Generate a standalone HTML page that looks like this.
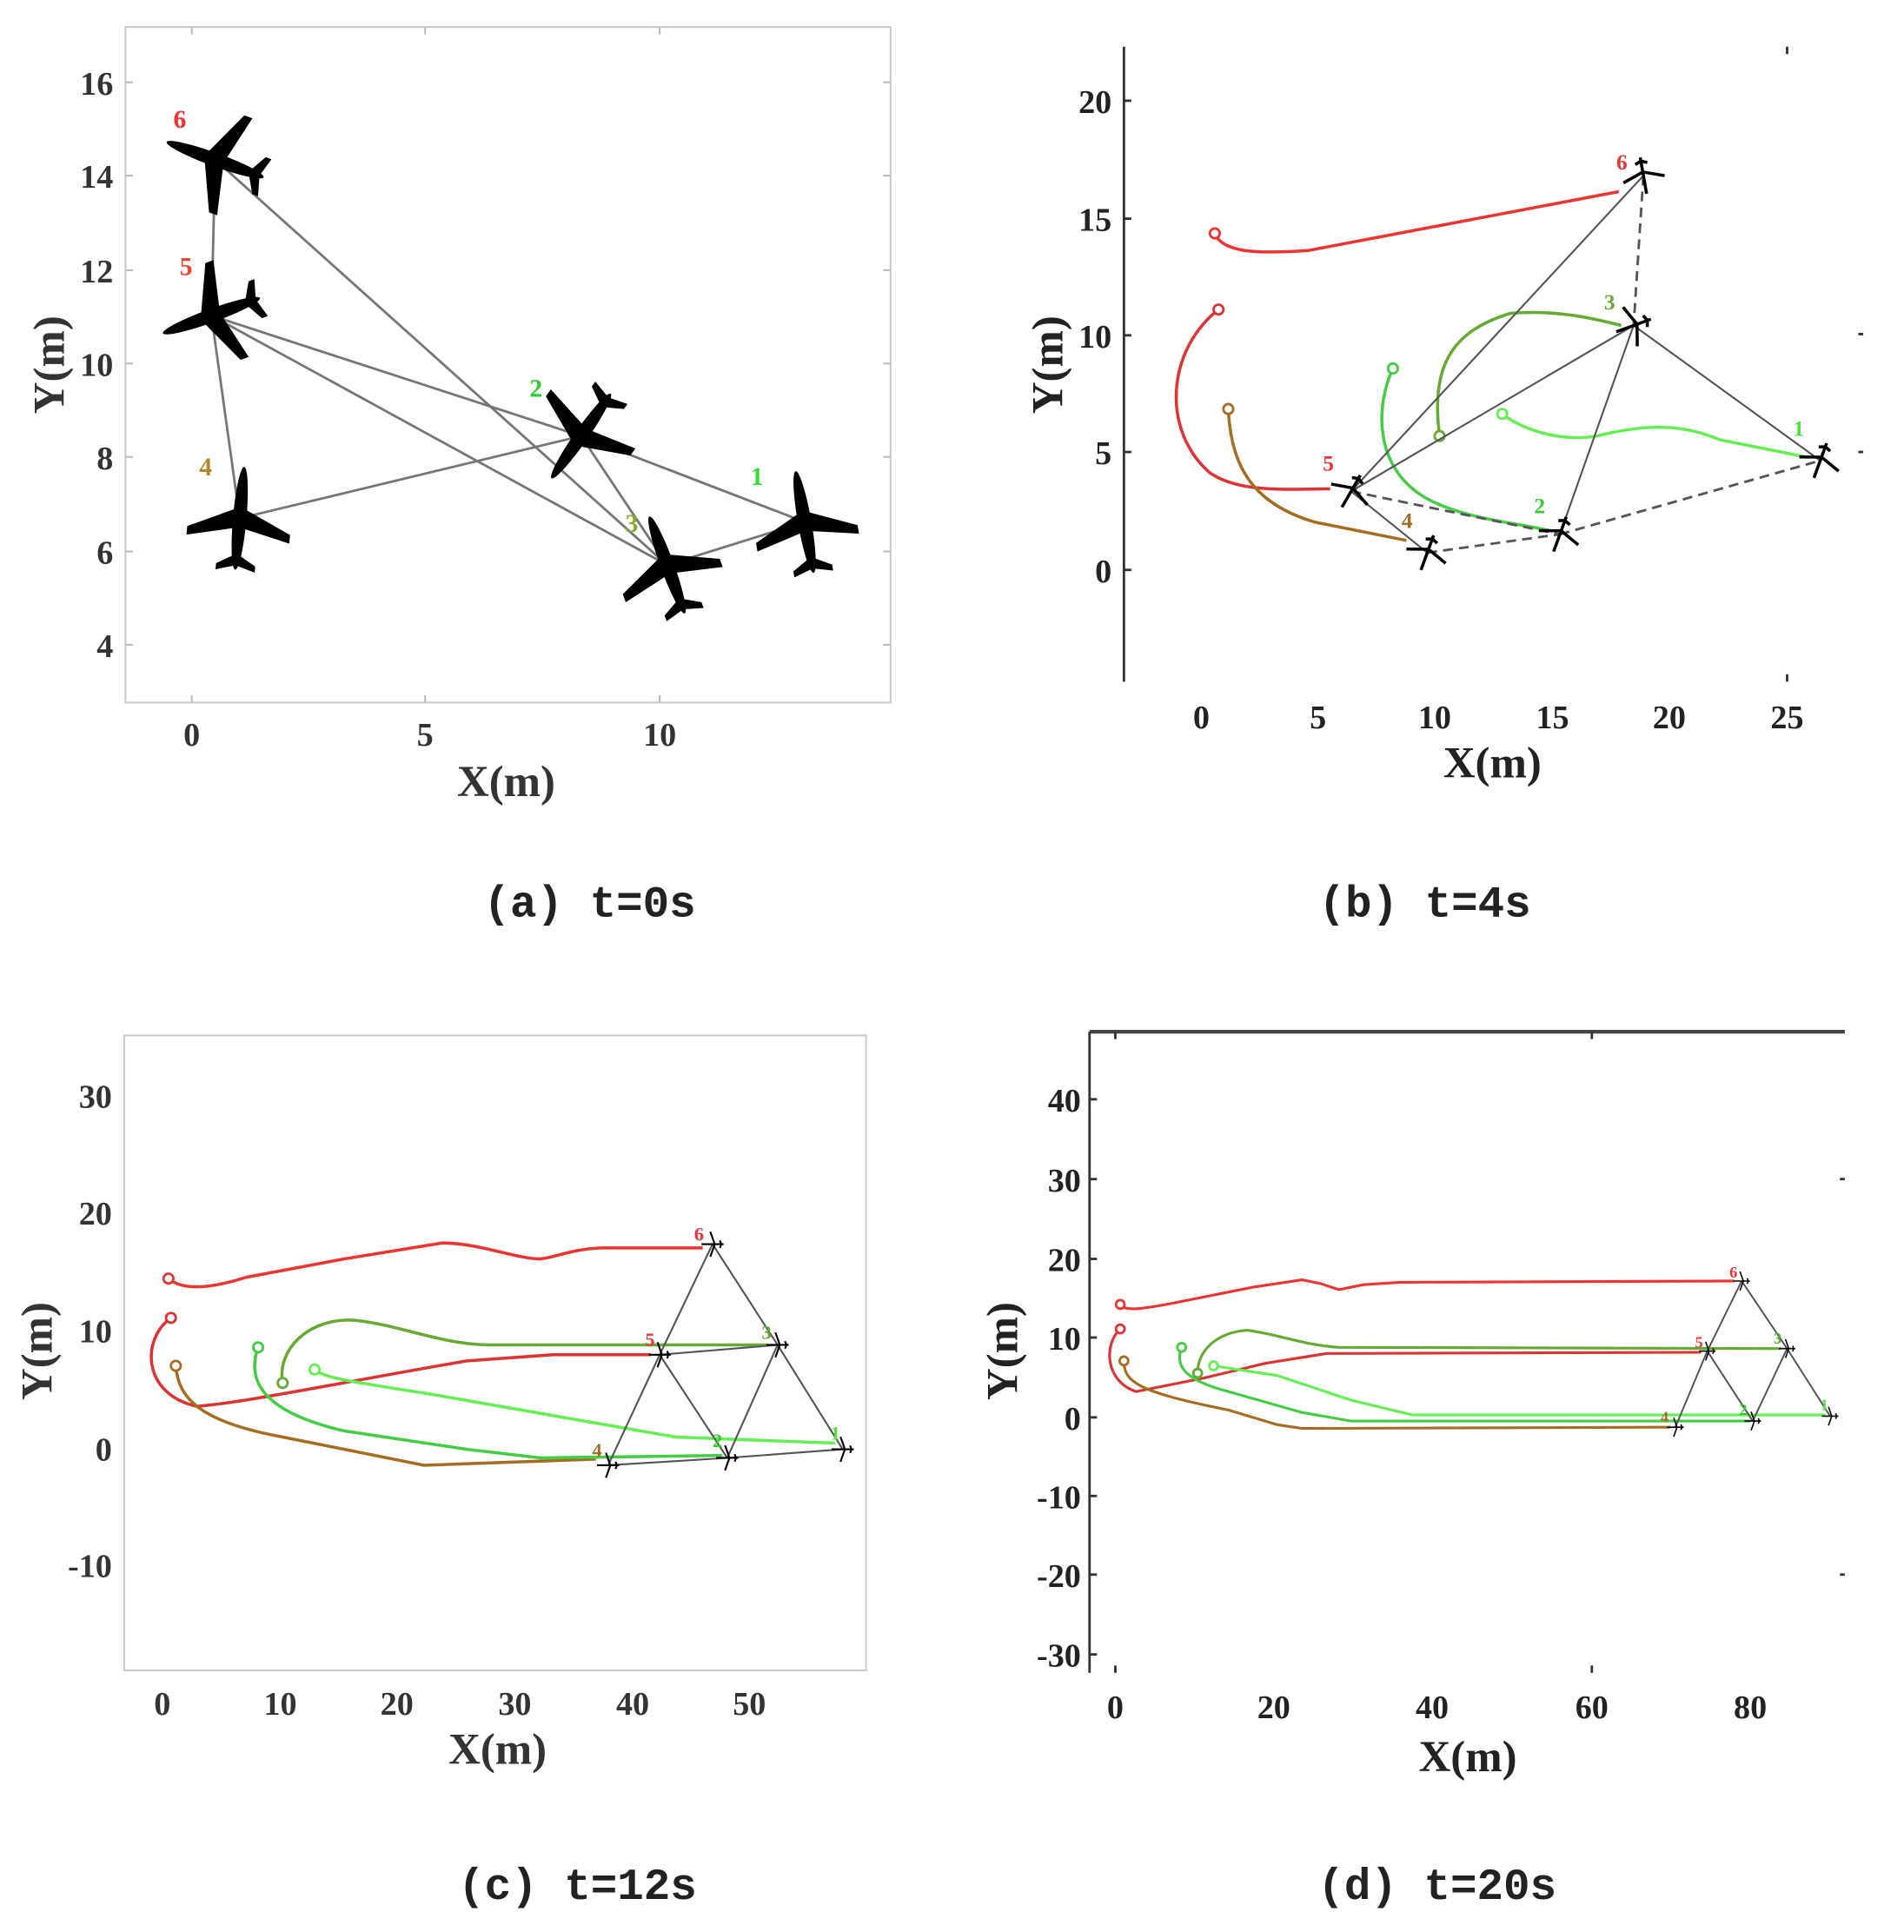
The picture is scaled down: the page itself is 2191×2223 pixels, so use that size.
<!DOCTYPE html>
<html><head><meta charset="utf-8"><style>
html,body{margin:0;padding:0;background:#fff}
svg{display:block}
text{font-family:"Liberation Serif",serif;font-weight:bold}
</style></head><body>
<svg width="2191" height="2223" viewBox="0 0 1550 1573" xmlns="http://www.w3.org/2000/svg">
<defs>
<g id="pl"><ellipse cx="0" cy="0" rx="42" ry="5.5" fill="#000"/>
<path d="M8,-3 L-10,-42 L-17,-42 L-8,-3 Z M8,3 L-10,42 L-17,42 L-8,3 Z M-30,-2 L-38,-16 L-43,-16 L-39,-2 Z M-30,2 L-38,16 L-43,16 L-39,2 Z" fill="#000"/></g>
<g id="sp"><path d="M-15,0 L15,0 M-3,-17 L3,0 L-3,17 M10,-5 L12,0 L10,5" stroke="#000" stroke-width="2.5" fill="none"/></g>
</defs>
<rect width="1550" height="1573" fill="#fff"/>

<!-- Panel (a) -->
<rect x="102" y="22" width="623" height="550" fill="none" stroke="#ccc" stroke-width="1.5"/>
<g stroke="#bbb" stroke-width="1.5">
<line x1="156" y1="572" x2="156" y2="566"/><line x1="346" y1="572" x2="346" y2="566"/><line x1="537" y1="572" x2="537" y2="566"/>
<line x1="156" y1="22" x2="156" y2="28"/><line x1="346" y1="22" x2="346" y2="28"/><line x1="537" y1="22" x2="537" y2="28"/>
<line x1="102" y1="67" x2="108" y2="67"/><line x1="102" y1="143" x2="108" y2="143"/><line x1="102" y1="220" x2="108" y2="220"/><line x1="102" y1="296" x2="108" y2="296"/><line x1="102" y1="372" x2="108" y2="372"/><line x1="102" y1="449" x2="108" y2="449"/><line x1="102" y1="525" x2="108" y2="525"/>
<line x1="725" y1="67" x2="719" y2="67"/><line x1="725" y1="143" x2="719" y2="143"/><line x1="725" y1="220" x2="719" y2="220"/><line x1="725" y1="296" x2="719" y2="296"/><line x1="725" y1="372" x2="719" y2="372"/><line x1="725" y1="449" x2="719" y2="449"/><line x1="725" y1="525" x2="719" y2="525"/>
</g>
<g font-size="27" fill="#333" text-anchor="end">
<text x="92" y="77">16</text><text x="92" y="153">14</text><text x="92" y="230">12</text><text x="92" y="306">10</text><text x="92" y="382">8</text><text x="92" y="459">6</text><text x="92" y="535">4</text>
</g>
<g font-size="27" fill="#333" text-anchor="middle">
<text x="156" y="607">0</text><text x="346" y="607">5</text><text x="537" y="607">10</text>
</g>
<text x="412" y="648" font-size="36" fill="#333" text-anchor="middle">X(m)</text>
<text transform="translate(52,297) rotate(-90)" font-size="36" fill="#333" text-anchor="middle">Y(m)</text>
<g stroke="#777" stroke-width="2" fill="none">
<line x1="175" y1="130" x2="172" y2="257"/><line x1="175" y1="130" x2="543" y2="460"/>
<line x1="172" y1="257" x2="473" y2="355"/><line x1="172" y1="257" x2="543" y2="460"/><line x1="172" y1="257" x2="195" y2="422"/>
<line x1="195" y1="422" x2="473" y2="355"/><line x1="473" y1="355" x2="655" y2="425"/><line x1="473" y1="355" x2="543" y2="460"/><line x1="543" y1="460" x2="655" y2="425"/>
</g>
<use href="#pl" transform="translate(175,130) rotate(200)"/>
<use href="#pl" transform="translate(172,257) rotate(160)"/>
<use href="#pl" transform="translate(195,422) rotate(-85)"/>
<use href="#pl" transform="translate(473,355) rotate(125)"/>
<use href="#pl" transform="translate(543,460) rotate(-110)"/>
<use href="#pl" transform="translate(655,425) rotate(-100)"/>
<g font-size="21" font-weight="normal">
<text x="141" y="104" fill="#e33">6</text><text x="146" y="224" fill="#e43">5</text><text x="162" y="387" fill="#b8862a">4</text>
<text x="431" y="323" fill="#3c3">2</text><text x="509" y="433" fill="#8a3">3</text><text x="611" y="395" fill="#3d3">1</text>
</g>
<text x="480" y="746" font-size="36" fill="#222" text-anchor="middle" style="font-family:'Liberation Mono',monospace">(a)  t=0s</text>

<!-- Panel (b) -->
<line x1="915" y1="38" x2="915" y2="555" stroke="#333" stroke-width="2"/>
<g stroke="#333" stroke-width="2">
<line x1="915" y1="82" x2="921" y2="82"/><line x1="915" y1="178" x2="921" y2="178"/><line x1="915" y1="273" x2="921" y2="273"/><line x1="915" y1="368" x2="921" y2="368"/><line x1="915" y1="464" x2="921" y2="464"/>
<line x1="1455" y1="38" x2="1455" y2="44"/><line x1="1455" y1="549" x2="1455" y2="555"/><line x1="1513" y1="272" x2="1517" y2="272"/><line x1="1513" y1="368" x2="1517" y2="368"/>
</g>
<g font-size="27" fill="#222" text-anchor="end">
<text x="905" y="92">20</text><text x="905" y="188">15</text><text x="905" y="283">10</text><text x="905" y="378">5</text><text x="905" y="474">0</text>
</g>
<g font-size="27" fill="#222" text-anchor="middle">
<text x="978" y="593">0</text><text x="1073" y="593">5</text><text x="1168" y="593">10</text><text x="1264" y="593">15</text><text x="1359" y="593">20</text><text x="1455" y="593">25</text>
</g>
<text x="1215" y="633" font-size="36" fill="#222" text-anchor="middle">X(m)</text>
<text transform="translate(865,297) rotate(-90)" font-size="36" fill="#222" text-anchor="middle">Y(m)</text>
<g fill="none" stroke-width="2.5">
<path d="M989,190 C995,205 1020,207 1065,204 L1318,156" stroke="#e33"/>
<path d="M992,252 C950,285 945,350 985,385 C1010,402 1050,398 1083,398" stroke="#d33"/>
<path d="M1000,333 C1002,380 1020,410 1070,425 L1145,440" stroke="#a66d22"/>
<path d="M1134,300 C1120,330 1118,380 1160,405 C1190,422 1230,425 1262,432" stroke="#4c4"/>
<path d="M1172,355 C1165,300 1180,270 1230,255 C1270,252 1300,260 1320,265" stroke="#6a3"/>
<path d="M1223,337 C1240,350 1270,360 1300,355 C1340,345 1370,345 1400,358 L1470,372" stroke="#6e5"/>
</g>
<g fill="#fff" stroke-width="2">
<circle cx="989" cy="190" r="4" stroke="#e33"/><circle cx="992" cy="252" r="4" stroke="#d33"/><circle cx="1000" cy="333" r="4" stroke="#a66d22"/>
<circle cx="1134" cy="300" r="4" stroke="#4c4"/><circle cx="1172" cy="355" r="4" stroke="#6a3"/><circle cx="1223" cy="337" r="4" stroke="#6e5"/>
</g>
<g stroke="#555" stroke-width="1.5" fill="none">
<line x1="1338" y1="143" x2="1100" y2="400"/>
<line x1="1330" y1="265" x2="1100" y2="400"/><line x1="1330" y1="265" x2="1270" y2="435"/><line x1="1330" y1="265" x2="1482" y2="375"/>
<line x1="1100" y1="400" x2="1162" y2="450"/>
</g>
<g stroke="#555" stroke-width="2" stroke-dasharray="8,5" fill="none">
<line x1="1338" y1="143" x2="1330" y2="265"/><line x1="1270" y1="435" x2="1482" y2="375"/><line x1="1100" y1="400" x2="1270" y2="435"/><line x1="1162" y1="450" x2="1270" y2="435"/>
</g>
<use href="#sp" transform="translate(1338,143) rotate(-100)"/>
<use href="#sp" transform="translate(1330,265) rotate(-20)"/>
<use href="#sp" transform="translate(1100,400) rotate(-60)"/>
<use href="#sp" transform="translate(1162,450) rotate(-70)"/>
<use href="#sp" transform="translate(1270,435) rotate(-70)"/>
<use href="#sp" transform="translate(1482,375) rotate(-70)"/>
<g font-size="18" font-weight="normal">
<text x="1316" y="138" fill="#e33">6</text><text x="1077" y="383" fill="#e33">5</text><text x="1141" y="430" fill="#a66d22">4</text>
<text x="1249" y="418" fill="#3c3">2</text><text x="1306" y="252" fill="#6a3">3</text><text x="1460" y="355" fill="#5d4">1</text>
</g>
<text x="1160" y="746" font-size="36" fill="#222" text-anchor="middle" style="font-family:'Liberation Mono',monospace">(b)  t=4s</text>

<!-- Panel (c) -->
<rect x="101" y="843" width="604" height="517" fill="none" stroke="#ccc" stroke-width="1.5"/>
<g font-size="27" fill="#333" text-anchor="end">
<text x="91" y="902">30</text><text x="91" y="997">20</text><text x="91" y="1093">10</text><text x="91" y="1189">0</text><text x="91" y="1284">-10</text>
</g>
<g font-size="27" fill="#333" text-anchor="middle">
<text x="132" y="1396">0</text><text x="228" y="1396">10</text><text x="323" y="1396">20</text><text x="419" y="1396">30</text><text x="515" y="1396">40</text><text x="610" y="1396">50</text>
</g>
<text x="405" y="1436" font-size="36" fill="#333" text-anchor="middle">X(m)</text>
<text transform="translate(42,1100) rotate(-90)" font-size="36" fill="#333" text-anchor="middle">Y(m)</text>
<g fill="none" stroke-width="2.5">
<path d="M137,1041 C150,1052 175,1048 200,1040 L280,1025 L360,1012 C390,1012 420,1025 440,1025 C455,1023 465,1017 490,1016 L572,1016" stroke="#e33"/>
<path d="M139,1073 C115,1090 115,1135 160,1145 C200,1142 280,1125 380,1108 L450,1103 L530,1103" stroke="#d33"/>
<path d="M143,1112 C145,1140 165,1158 230,1170 L345,1193 L485,1188" stroke="#a66d22"/>
<path d="M230,1126 C225,1100 250,1072 290,1075 C330,1080 360,1095 400,1095 L625,1095" stroke="#6a3"/>
<path d="M210,1097 C200,1125 215,1150 280,1165 L380,1180 L440,1187 L588,1185" stroke="#4c4"/>
<path d="M256,1115 C265,1122 280,1124 350,1135 L550,1170 L680,1175" stroke="#6e5"/>
</g>
<g fill="#fff" stroke-width="2">
<circle cx="137" cy="1041" r="4" stroke="#e33"/><circle cx="139" cy="1073" r="4" stroke="#d33"/><circle cx="143" cy="1112" r="4" stroke="#a66d22"/>
<circle cx="230" cy="1126" r="4" stroke="#6a3"/><circle cx="210" cy="1097" r="4" stroke="#4c4"/><circle cx="256" cy="1115" r="4" stroke="#6e5"/>
</g>
<g stroke="#555" stroke-width="1.5" fill="none">
<line x1="580" y1="1013" x2="537" y2="1103"/><line x1="580" y1="1013" x2="633" y2="1095"/>
<line x1="537" y1="1103" x2="495" y2="1193"/><line x1="537" y1="1103" x2="592" y2="1187"/>
<line x1="633" y1="1095" x2="592" y2="1187"/><line x1="633" y1="1095" x2="686" y2="1180"/>
<line x1="537" y1="1103" x2="633" y2="1095"/><line x1="495" y1="1193" x2="592" y2="1187"/><line x1="592" y1="1187" x2="686" y2="1180"/>
</g>
<use href="#sp" transform="translate(580,1013) scale(0.6)"/>
<use href="#sp" transform="translate(537,1103) scale(0.6)"/>
<use href="#sp" transform="translate(495,1193) scale(0.6)"/>
<use href="#sp" transform="translate(633,1095) scale(0.6)"/>
<use href="#sp" transform="translate(592,1187) scale(0.6)"/>
<use href="#sp" transform="translate(686,1180) scale(0.6)"/>
<g font-size="16" font-weight="normal">
<text x="565" y="1010" fill="#e33">6</text><text x="525" y="1096" fill="#e33">5</text><text x="482" y="1186" fill="#a66d22">4</text>
<text x="580" y="1178" fill="#3c3">2</text><text x="620" y="1090" fill="#6a3">3</text><text x="676" y="1172" fill="#5d4">1</text>
</g>
<text x="470" y="1546" font-size="36" fill="#222" text-anchor="middle" style="font-family:'Liberation Mono',monospace">(c)  t=12s</text>

<!-- Panel (d) -->
<line x1="887" y1="840" x2="1502" y2="840" stroke="#444" stroke-width="3"/>
<line x1="887" y1="840" x2="887" y2="1362" stroke="#333" stroke-width="2"/>
<g stroke="#333" stroke-width="2">
<line x1="887" y1="895" x2="893" y2="895"/><line x1="887" y1="960" x2="893" y2="960"/><line x1="887" y1="1025" x2="893" y2="1025"/><line x1="887" y1="1089" x2="893" y2="1089"/><line x1="887" y1="1154" x2="893" y2="1154"/><line x1="887" y1="1218" x2="893" y2="1218"/><line x1="887" y1="1282" x2="893" y2="1282"/><line x1="887" y1="1347" x2="893" y2="1347"/>
<line x1="908" y1="1356" x2="908" y2="1362"/><line x1="1296" y1="1356" x2="1296" y2="1362"/><line x1="908" y1="840" x2="908" y2="846"/><line x1="1296" y1="840" x2="1296" y2="846"/>
<line x1="1498" y1="960" x2="1502" y2="960"/><line x1="1498" y1="1282" x2="1502" y2="1282"/>
</g>
<g font-size="27" fill="#222" text-anchor="end">
<text x="880" y="905">40</text><text x="880" y="970">30</text><text x="880" y="1035">20</text><text x="880" y="1099">10</text><text x="880" y="1164">0</text><text x="880" y="1228">-10</text><text x="880" y="1292">-20</text><text x="880" y="1357">-30</text>
</g>
<g font-size="27" fill="#222" text-anchor="middle">
<text x="908" y="1399">0</text><text x="1037" y="1399">20</text><text x="1166" y="1399">40</text><text x="1296" y="1399">60</text><text x="1425" y="1399">80</text>
</g>
<text x="1195" y="1442" font-size="36" fill="#222" text-anchor="middle">X(m)</text>
<text transform="translate(828,1100) rotate(-90)" font-size="36" fill="#222" text-anchor="middle">Y(m)</text>
<g fill="none" stroke-width="2.2">
<path d="M912,1062 C915,1068 930,1066 960,1060 L1020,1048 L1060,1042 L1075,1045 L1090,1050 L1110,1046 L1140,1044 L1412,1043" stroke="#e33"/>
<path d="M912,1082 C898,1095 900,1125 925,1133 L980,1122 L1030,1110 L1080,1102 L1385,1101" stroke="#d33"/>
<path d="M915,1108 C915,1125 925,1133 1000,1148 L1040,1160 L1060,1163 L1360,1162" stroke="#a66d22"/>
<path d="M975,1118 C975,1100 990,1085 1015,1083 C1040,1086 1060,1095 1090,1097 L1450,1098" stroke="#6a3"/>
<path d="M962,1097 C955,1115 970,1125 1000,1133 L1060,1150 L1100,1157 L1425,1157" stroke="#4c4"/>
<path d="M988,1112 L1040,1120 L1100,1140 L1150,1152 L1486,1152" stroke="#6e5"/>
</g>
<g fill="#fff" stroke-width="2">
<circle cx="912" cy="1062" r="3.5" stroke="#e33"/><circle cx="912" cy="1082" r="3.5" stroke="#d33"/><circle cx="915" cy="1108" r="3.5" stroke="#a66d22"/>
<circle cx="975" cy="1118" r="3.5" stroke="#6a3"/><circle cx="962" cy="1097" r="3.5" stroke="#4c4"/><circle cx="988" cy="1112" r="3.5" stroke="#6e5"/>
</g>
<g stroke="#555" stroke-width="1.4" fill="none">
<line x1="1418" y1="1043" x2="1390" y2="1100"/><line x1="1418" y1="1043" x2="1455" y2="1098"/>
<line x1="1390" y1="1100" x2="1364" y2="1162"/><line x1="1390" y1="1100" x2="1427" y2="1157"/>
<line x1="1455" y1="1098" x2="1427" y2="1157"/><line x1="1455" y1="1098" x2="1490" y2="1153"/>
</g>
<use href="#sp" transform="translate(1418,1043) scale(0.45)"/>
<use href="#sp" transform="translate(1390,1100) scale(0.45)"/>
<use href="#sp" transform="translate(1364,1162) scale(0.45)"/>
<use href="#sp" transform="translate(1455,1098) scale(0.45)"/>
<use href="#sp" transform="translate(1427,1157) scale(0.45)"/>
<use href="#sp" transform="translate(1490,1153) scale(0.45)"/>
<g font-size="13" font-weight="normal">
<text x="1408" y="1040" fill="#e33">6</text><text x="1380" y="1097" fill="#e33">5</text><text x="1352" y="1158" fill="#a66d22">4</text>
<text x="1416" y="1152" fill="#3c3">2</text><text x="1444" y="1094" fill="#6a3">3</text><text x="1482" y="1148" fill="#5d4">1</text>
</g>
<text x="1170" y="1546" font-size="36" fill="#222" text-anchor="middle" style="font-family:'Liberation Mono',monospace">(d)  t=20s</text>
</svg>
</body></html>
